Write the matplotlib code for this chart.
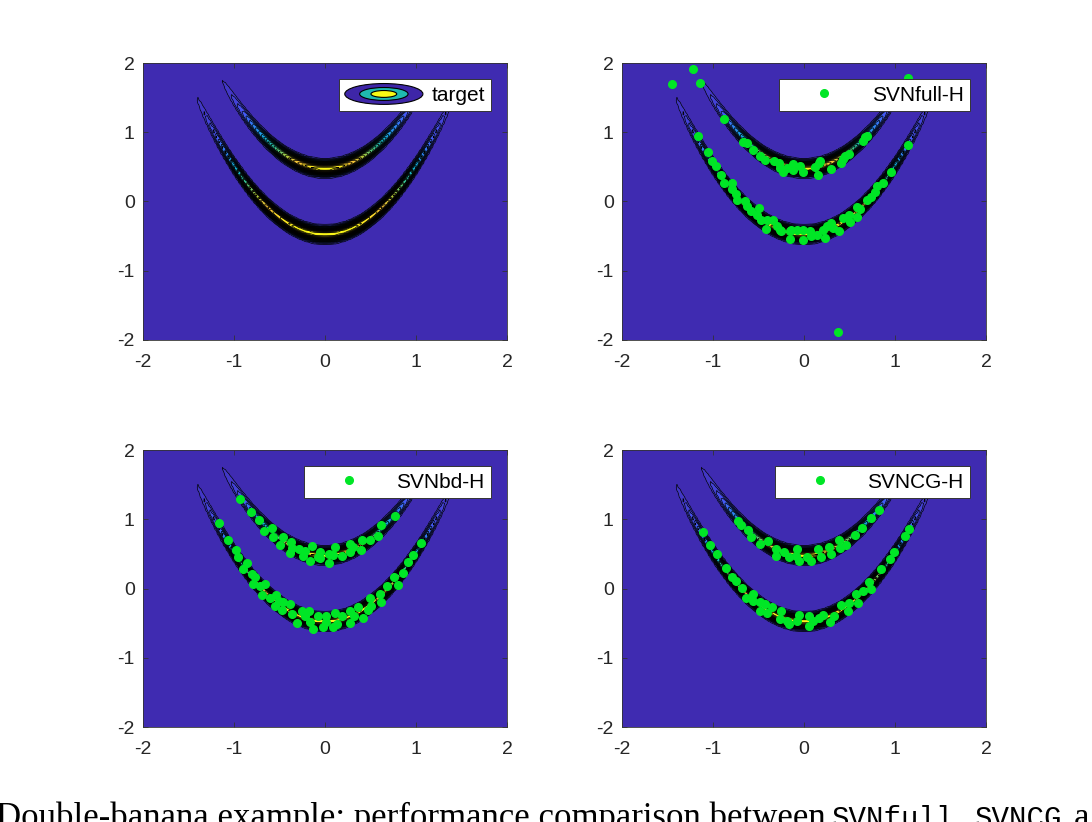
import numpy as np
import matplotlib
matplotlib.use("Agg")
import matplotlib.pyplot as plt
from matplotlib.colors import LinearSegmentedColormap
from matplotlib.legend_handler import HandlerBase
from matplotlib.lines import Line2D
from matplotlib.patches import Ellipse, Patch

plt.rcParams["font.family"] = ["Liberation Sans", "DejaVu Sans"]
plt.rcParams["axes.unicode_minus"] = False

# samples
full_x = [-1.22, -1.45, -1.14, 1.14, 0.37, -0.88, -1.17, 1.14,
          -0.67, -0.63, -0.56, -0.48, -0.43, -0.33, -0.28, -0.26, -0.23, -0.19, -0.12, -0.12, -0.04, -0.01,
          0.12, 0.16, 0.18, 0.15, 0.30, 0.41, 0.43, 0.49, 0.45, 0.67, 0.69, 0.65,
          -1.06, -1.01, -0.97, -0.91, -0.88, -0.79, -0.79, -0.75, -0.74, -0.65, -0.63, -0.58, -0.50, -0.52,
          -0.47, -0.41, -0.34, -0.42, -0.30, -0.26, -0.25, -0.15, -0.14, -0.15, -0.08, -0.01, -0.01, 0.07,
          0.08, 0.14, 0.21, 0.23, 0.25, 0.30, 0.32, 0.38, 0.43, 0.49, 0.51, 0.58, 0.58, 0.62, 0.69, 0.74,
          0.78, 0.80, 0.87, 0.96]
full_y = [1.91, 1.69, 1.71, 1.78, -1.88, 1.19, 0.94, 0.82,
          0.86, 0.84, 0.74, 0.65, 0.60, 0.59, 0.55, 0.48, 0.43, 0.48, 0.54, 0.46, 0.51, 0.42,
          0.50, 0.55, 0.58, 0.38, 0.47, 0.56, 0.62, 0.69, 0.66, 0.93, 0.94, 0.88,
          0.71, 0.59, 0.51, 0.38, 0.26, 0.26, 0.18, 0.11, 0.02, 0.00, -0.07, -0.14, -0.10, -0.19,
          -0.26, -0.26, -0.26, -0.40, -0.36, -0.41, -0.43, -0.43, -0.41, -0.54, -0.41, -0.41, -0.55, -0.43,
          -0.50, -0.48, -0.41, -0.53, -0.36, -0.31, -0.38, -0.43, -0.24, -0.19, -0.29, -0.22, -0.08, -0.11, 0.02, 0.07,
          0.14, 0.22, 0.26, 0.43]

bd_x = [-0.93, -0.81, -0.73, -0.58, -0.67, -0.57, -0.46, -0.50, -0.37, -0.36, -0.39, -0.29, -0.22, -0.24, -0.14,
        -0.17, -0.06, -0.08, -0.05, 0.04, 0.04, 0.11, 0.09, 0.19, 0.27, 0.27, 0.31, 0.40, 0.41, 0.49, 0.58, 0.61, 0.77,
        -1.17, -1.07, -0.98, -0.96, -0.86, -0.90, -0.80, -0.77, -0.79, -0.71, -0.66, -0.69, -0.60, -0.54, -0.55,
        -0.51, -0.46, -0.47, -0.38, -0.36, -0.31, -0.25, -0.18, -0.22, -0.17, -0.13, -0.08, -0.02, 0.01, 0.01,
        0.09, 0.11, 0.13, 0.19, 0.27, 0.28, 0.32, 0.36, 0.42, 0.47, 0.49, 0.50, 0.60, 0.61, 0.68, 0.76, 0.80, 0.86,
        0.91, 0.97, 1.06]
bd_y = [1.29, 1.10, 0.99, 0.88, 0.83, 0.74, 0.74, 0.63, 0.67, 0.59, 0.51, 0.57, 0.54, 0.47, 0.61,
        0.39, 0.53, 0.46, 0.44, 0.50, 0.37, 0.60, 0.49, 0.47, 0.64, 0.52, 0.60, 0.56, 0.70, 0.70, 0.76, 0.91, 1.04,
        0.94, 0.70, 0.56, 0.45, 0.37, 0.28, 0.21, 0.16, 0.07, 0.04, 0.06, -0.09, -0.13, -0.09, -0.25,
        -0.18, -0.20, -0.31, -0.23, -0.37, -0.50, -0.32, -0.33, -0.39, -0.49, -0.58, -0.39, -0.56, -0.39, -0.49,
        -0.56, -0.36, -0.51, -0.40, -0.50, -0.32, -0.39, -0.26, -0.42, -0.31, -0.14, -0.25, -0.08, -0.19, 0.04, 0.17, 0.05, 0.23,
        0.38, 0.48, 0.65]

cg_x = [-0.73, -0.69, -0.61, -0.58, -0.48, -0.40, -0.31, -0.31, -0.22, -0.17, -0.08, -0.09, -0.05, 0.03, 0.08,
        0.15, 0.19, 0.28, 0.30, 0.38, 0.40, 0.46, 0.56, 0.64, 0.74, 0.82,
        -1.11, -1.03, -0.96, -0.86, -0.79, -0.75, -0.68, -0.64, -0.56, -0.56, -0.48, -0.43, -0.48, -0.41, -0.35,
        -0.25, -0.26, -0.19, -0.16, -0.05, -0.08, 0.05, 0.05, 0.10, 0.16, 0.21, 0.29, 0.33, 0.41, 0.48, 0.49,
        0.57, 0.59, 0.65, 0.71, 0.74, 0.85, 0.95, 0.99, 1.11, 1.15]
cg_y = [0.98, 0.91, 0.85, 0.74, 0.64, 0.68, 0.57, 0.47, 0.52, 0.45, 0.57, 0.47, 0.39, 0.45, 0.40,
        0.57, 0.46, 0.60, 0.50, 0.70, 0.58, 0.63, 0.77, 0.88, 1.02, 1.13,
        0.81, 0.63, 0.50, 0.30, 0.17, 0.11, 0.01, -0.13, -0.08, -0.18, -0.20, -0.23, -0.32, -0.36, -0.27,
        -0.32, -0.44, -0.47, -0.51, -0.38, -0.47, -0.39, -0.54, -0.47, -0.42, -0.38, -0.49, -0.39, -0.24, -0.33, -0.21,
        -0.08, -0.21, -0.03, 0.09, -0.01, 0.28, 0.42, 0.52, 0.76, 0.86]

panel_names = ["target", "SVNfull-H", "SVNbd-H", "SVNCG-H"]
panel_x = [None, full_x, bd_x, cg_x]
panel_y = [None, full_y, bd_y, cg_y]
ticks = [-2, -1, 0, 1, 2]

parula = LinearSegmentedColormap.from_list("parula", [
    (0.2422, 0.1504, 0.6603), (0.2810, 0.3228, 0.9579), (0.1786, 0.5289, 0.9682),
    (0.0689, 0.6948, 0.8394), (0.2161, 0.7843, 0.5923), (0.6720, 0.7793, 0.2227),
    (0.9970, 0.7659, 0.2199), (0.9769, 0.9839, 0.0805)])

# target density, evaluated on a grid coarse enough to give the broken contours
grid = np.linspace(-2, 2, 120)
X, Y = np.meshgrid(grid, grid)
U = Y - X ** 2
Z = np.exp(-0.8 * (X ** 2 + Y ** 2)) * (np.exp(-(np.abs(U - 0.48) / 0.09) ** 2.6)
                                        + np.exp(-(np.abs(U + 0.48) / 0.09) ** 2.6))
levels = np.linspace(0, Z.max(), 28)


class EllipseHandler(HandlerBase):
    def create_artists(self, legend, orig, xd, yd, w, h, fontsize, trans):
        cx = w / 2 - xd
        cy = h / 2 - yd
        out = []
        for frac, col in [(1.0, parula(0.0)), (0.62, "#1fb9b0"), (0.33, parula(1.0))]:
            out.append(Ellipse((cx, cy), w * frac, 15 * frac, facecolor=col, edgecolor="black",
                               linewidth=0.8, transform=trans))
        return out


fig = plt.figure(figsize=(10.92, 8.22), dpi=100)
boxes = [(143, 63), (622, 63), (143, 450), (622, 450)]

for i, name in enumerate(panel_names):
    left, top = boxes[i]
    ax = fig.add_axes([left / 1092, 1 - (top + 277) / 822, 364 / 1092, 277 / 822])
    ax.contourf(X, Y, Z, levels=levels, cmap=parula)
    ax.contour(X, Y, Z, levels=levels[1:], colors="black", linewidths=0.5)
    if panel_x[i] is None:
        handles = [Patch(label=name)]
        hmap = {handles[0]: EllipseHandler()}
    else:
        ax.plot(panel_x[i], panel_y[i], "o", color="#00e626", markersize=5.5, zorder=5, clip_on=False)
        handles = [Line2D([], [], ls="none", marker="o", color="#00e626", markersize=5.5, label=name)]
        hmap = {}
    leg = ax.legend(handles=handles, handler_map=hmap, loc="upper right", bbox_to_anchor=(0.956, 0.942),
                    fontsize=15, handlelength=3.75, handleheight=0.9, handletextpad=0.4,
                    borderpad=0.3, borderaxespad=0, fancybox=False, framealpha=1, edgecolor="#333333")
    leg.get_frame().set_linewidth(0.7)
    leg.set_zorder(10)
    ax.set_xlim(-2, 2)
    ax.set_ylim(-2, 2)
    ax.set_xticks(ticks)
    ax.set_yticks(ticks)
    ax.tick_params(direction="in", length=3.5, width=0.6, top=True, right=True, labelsize=14,
                   color="#333333", labelcolor="#262626")
    ax.tick_params(axis="x", pad=10)
    ax.tick_params(axis="y", pad=6)
    for spine in ax.spines.values():
        spine.set_linewidth(0.6)
        spine.set_color("#333333")

base_y = (822 - 827) / 822
fig.text(-4 / 1092, base_y, "Double-banana example: performance comparison between",
         family="Liberation Serif", fontsize=25, va="baseline")
fig.text(832 / 1092, base_y, "SVNfull", family="Liberation Mono", fontsize=21, va="baseline")
fig.text(955 / 1092, base_y, ",", family="Liberation Serif", fontsize=25, va="baseline")
fig.text(975 / 1092, base_y, "SVNCG", family="Liberation Mono", fontsize=21, va="baseline")
fig.text(1062 / 1092, base_y, ",", family="Liberation Serif", fontsize=25, va="baseline")
fig.text(1074 / 1092, base_y, "a", family="Liberation Serif", fontsize=25, va="baseline")

fig.savefig("out.png", dpi=100)
